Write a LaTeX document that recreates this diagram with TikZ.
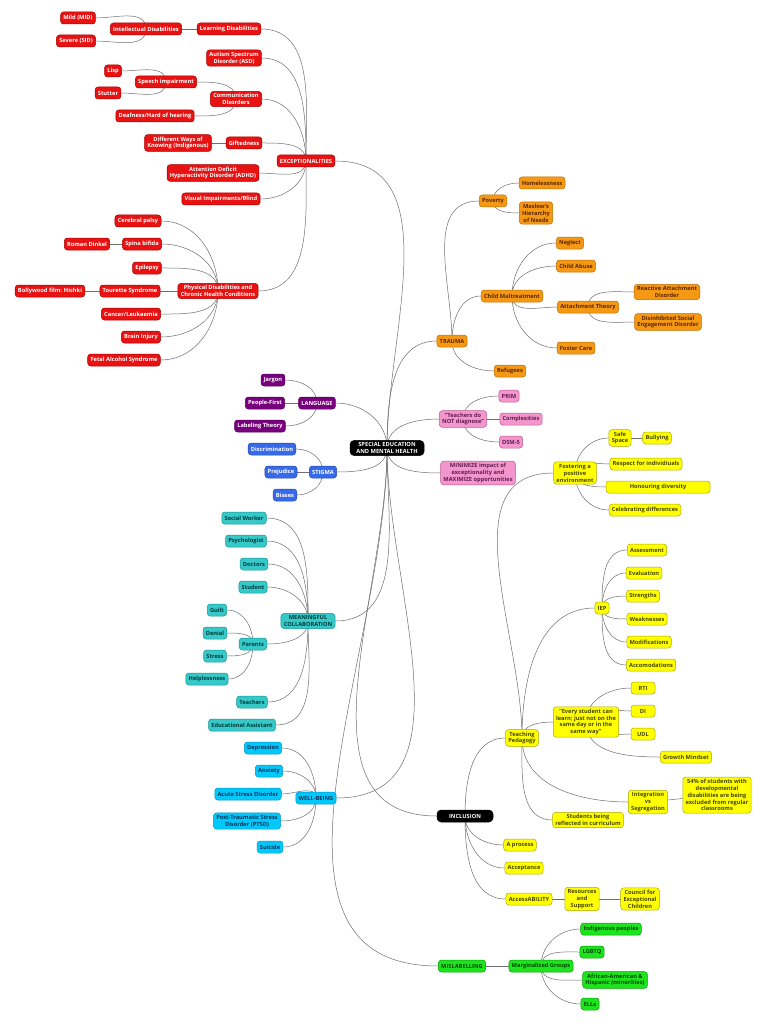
\documentclass[tikz,border=0pt]{standalone}
\usepackage{fontspec}
\setmainfont{Open Sans}
\pgfdeclarelayer{bg}
\pgfsetlayers{bg,main}
\definecolor{cRed}{RGB}{232,18,18}\definecolor{cRedB}{RGB}{170,0,0}
\definecolor{cOr}{RGB}{245,152,20}\definecolor{cOrB}{RGB}{190,110,0}\definecolor{cOrT}{RGB}{90,40,0}
\definecolor{cYe}{RGB}{255,255,0}\definecolor{cYeB}{RGB}{170,170,0}\definecolor{cYeT}{RGB}{70,70,0}
\definecolor{cPk}{RGB}{242,150,205}\definecolor{cPkB}{RGB}{190,90,150}\definecolor{cPkT}{RGB}{100,30,80}
\definecolor{cPu}{RGB}{120,0,125}
\definecolor{cBl}{RGB}{55,105,235}
\definecolor{cTe}{RGB}{55,200,200}\definecolor{cTeB}{RGB}{20,150,150}\definecolor{cTeT}{RGB}{0,60,60}
\definecolor{cCy}{RGB}{0,200,250}\definecolor{cCyB}{RGB}{0,150,200}\definecolor{cCyT}{RGB}{0,50,90}
\definecolor{cGr}{RGB}{30,228,30}\definecolor{cGrB}{RGB}{0,160,0}\definecolor{cGrT}{RGB}{0,70,0}
\definecolor{cCon}{RGB}{110,110,110}
\tikzset{
 bx/.style={rounded corners=3pt,font=\bfseries\fontsize{5.7}{6.9}\selectfont,align=center,inner xsep=2.8pt,inner ysep=2pt,minimum height=12pt,line width=0.5pt},
 rd/.style={bx,fill=cRed,draw=cRedB,text=white},
 orn/.style={bx,fill=cOr,draw=cOrB,text=cOrT},
 ye/.style={bx,fill=cYe,draw=cYeB,text=cYeT},
 pk/.style={bx,fill=cPk,draw=cPkB,text=cPkT},
 pu/.style={bx,fill=cPu,draw=cPu!70!black,text=white},
 bl/.style={bx,fill=cBl,draw=cBl!70!black,text=white},
 te/.style={bx,fill=cTe,draw=cTeB,text=cTeT},
 cy/.style={bx,fill=cCy,draw=cCyB,text=cCyT},
 gr/.style={bx,fill=cGr,draw=cGrB,text=cGrT},
 bk/.style={bx,fill=black,draw=black,text=white,rounded corners=4pt},
 con/.style={draw=cCon,line width=0.5pt}
}
\newcommand\LA[2]{\draw[con] (#2.east) to[out=0,in=90] (#1.center);}
\newcommand\LB[2]{\draw[con] (#2.east) to[out=0,in=-90] (#1.center);}
\newcommand\RA[2]{\draw[con] (#1.center) to[out=90,in=180] (#2.west);}
\newcommand\RB[2]{\draw[con] (#1.center) to[out=-90,in=180] (#2.west);}
\newcommand\SL[2]{\draw[con] (#1.center) -- (#2.center);}
\begin{document}
\begin{tikzpicture}[x=1pt,y=1pt]
\begin{pgfonlayer}{bg}
\fill[white] (0,0) rectangle (768,-1024);
\end{pgfonlayer}
\useasboundingbox (0,0) rectangle (768,-1024);
\node[bk,minimum width=74pt] (C) at (387,-448) {SPECIAL EDUCATION\\AND MENTAL HEALTH};
% red
\node[rd] (exc) at (306,-161) {EXCEPTIONALITIES};
\node[rd] (ld) at (229,-29) {Learning Disabilities};
\node[rd] (id) at (146,-29) {Intellectual Disabilities};
\node[rd] (mid) at (78,-18) {Mild (MID)};
\node[rd] (sid) at (76,-41) {Severe (SID)};
\node[rd] (asd) at (234,-58) {Autism Spectrum\\Disorder (ASD)};
\node[rd] (cd) at (236,-99) {Communication\\Disorders};
\node[rd] (sp) at (166,-82) {Speech impairment};
\node[rd] (lisp) at (113,-71) {Lisp};
\node[rd] (stut) at (108,-93) {Stutter};
\node[rd] (deaf) at (155,-116) {Deafness/Hard of hearing};
\node[rd] (gift) at (244,-143) {Giftedness};
\node[rd] (dwk) at (178,-143) {Different Ways of\\Knowing (Indigenous)};
\node[rd] (adhd) at (213,-173) {Attention Deficit\\Hyperactivity Disorder (ADHD)};
\node[rd] (vis) at (221,-199) {Visual Impairments/Blind};
\node[rd] (phys) at (218,-291) {Physical Disabilities and\\Chronic Health Conditions};
\node[rd] (cp) at (138,-221) {Cerebral palsy};
\node[rd] (sb) at (142,-244) {Spina bifida};
\node[rd] (rdk) at (87,-244) {Roman Dinkel};
\node[rd] (epi) at (147,-268) {Epilepsy};
\node[rd] (tour) at (130,-291) {Tourette Syndrome};
\node[rd] (bolly) at (50,-291) {Bollywood film: Hichki};
\node[rd] (canc) at (131,-314) {Cancer/Leukaemia};
\node[rd] (brain) at (141,-337) {Brain Injury};
\node[rd] (fas) at (124,-360) {Fetal Alcohol Syndrome};
% purple
\node[pu] (lang) at (317,-403) {LANGUAGE};
\node[pu] (jar) at (273,-380) {Jargon};
\node[pu] (pf) at (265,-403) {People-First};
\node[pu] (lt) at (260,-426) {Labeling Theory};
% blue
\node[bl] (stig) at (323,-472) {STIGMA};
\node[bl] (disc) at (272,-449) {Discrimination};
\node[bl] (prej) at (281,-472) {Prejudice};
\node[bl] (bias) at (285,-495) {Biases};
% teal
\node[te] (mc) at (308,-621) {MEANINGFUL\\COLLABORATION};
\node[te] (sw) at (244,-518) {Social Worker};
\node[te] (psy) at (246,-541) {Psychologist};
\node[te] (doc) at (254,-564) {Doctors};
\node[te] (stu) at (253,-587) {Student};
\node[te] (par) at (253,-644) {Parents};
\node[te] (guilt) at (217,-610) {Guilt};
\node[te] (den) at (215,-633) {Denial};
\node[te] (str) at (215,-656) {Stress};
\node[te] (help) at (207,-679) {Helplessness};
\node[te] (tea) at (252,-702) {Teachers};
\node[te] (ea) at (242,-725) {Educational Assistant};
% cyan
\node[cy] (wb) at (316,-798) {WELL-BEING};
\node[cy] (dep) at (263,-748) {Depression};
\node[cy] (anx) at (269,-771) {Anxiety};
\node[cy] (asdis) at (248,-794) {Acute Stress Disorder};
\node[cy] (ptsd) at (247,-821) {Post-Traumatic Stress\\Disorder (PTSD)};
\node[cy] (sui) at (270,-847) {Suicide};
% orange
\node[orn] (tr) at (452,-341) {TRAUMA};
\node[orn] (pov) at (493,-201) {Poverty};
\node[orn] (home) at (542,-183) {Homelessness};
\node[orn] (mas) at (536,-213) {Maslow's\\Hierarchy\\of Needs};
\node[orn] (cm) at (512,-296) {Child Maltreatment};
\node[orn] (neg) at (570,-243) {Neglect};
\node[orn] (ca) at (576,-266) {Child Abuse};
\node[orn] (at) at (588,-307) {Attachment Theory};
\node[orn] (rad) at (667,-292) {Reactive Attachment\\Disorder};
\node[orn] (dsed) at (668,-322) {Disinhibited Social\\Engagement Disorder};
\node[orn] (fc) at (576,-348) {Foster Care};
\node[orn] (ref) at (510,-371) {Refugees};
% pink
\node[pk] (tnd) at (463,-419) {"Teachers do\\NOT diagnose"};
\node[pk] (prim) at (509,-396) {PRIM};
\node[pk] (comp) at (521,-419) {Complexities};
\node[pk] (dsm) at (511,-442) {DSM-5};
\node[pk] (mini) at (478,-473) {MINIMIZE impact of\\exceptionality and\\MAXIMIZE opportunities};
% inclusion
\node[bk,minimum width=56pt] (inc) at (465,-816) {INCLUSION};
\node[ye] (tp) at (522,-738) {Teaching\\Pedagogy};
\node[ye] (fpe) at (575,-473) {Fostering a\\positive\\environment};
\node[ye] (safe) at (620,-438) {Safe\\Space};
\node[ye] (bul) at (657,-438) {Bullying};
\node[ye] (resp) at (646,-464) {Respect for individiuals};
\node[ye,minimum width=104pt] (hon) at (658,-487) {Honouring diversity};
\node[ye] (cel) at (645,-510) {Celebrating differences};
\node[ye] (iep) at (602,-608) {IEP};
\node[ye] (ass) at (647,-550) {Assessment};
\node[ye] (eva) at (644,-573) {Evaluation};
\node[ye] (stre) at (643,-596) {Strengths};
\node[ye] (weak) at (647,-619) {Weaknesses};
\node[ye] (mod) at (649,-642) {Modifications};
\node[ye] (acc) at (651,-665) {Accomodations};
\node[ye] (every) at (586,-722) {"Every student can\\learn; just not on the\\same day or in the\\same way"};
\node[ye,minimum width=24pt] (rti) at (643,-688) {RTI};
\node[ye,minimum width=24pt] (di) at (643,-711) {DI};
\node[ye,minimum width=24pt] (udl) at (643,-734) {UDL};
\node[ye] (gm) at (686,-757) {Growth Mindset};
\node[ye] (ivs) at (648,-802) {Integration\\vs\\Segregation};
\node[ye] (pct) at (717,-795) {54\% of students with\\developmental\\disabilities are being\\excluded from regular\\classrooms};
\node[ye] (sbr) at (588,-820) {Students being\\reflected in curriculum};
\node[ye] (proc) at (520,-845) {A process};
\node[ye] (acce) at (524,-868) {Acceptance};
\node[ye] (accab) at (529,-899) {AccessABILITY};
\node[ye] (rs) at (582,-899) {Resources\\and\\Support};
\node[ye] (cec) at (640,-899) {Council for\\Exceptional\\Children};
% green
\node[gr] (mis) at (462,-966) {MISLABELLING};
\node[gr] (mg) at (541,-966) {Marginalized Groups};
\node[gr] (ip) at (611,-929) {Indigenous peoples};
\node[gr] (lgb) at (592,-952) {LGBTQ};
\node[gr] (afr) at (615,-980) {African-American \&\\Hispanic (minorities)};
\node[gr] (ell) at (590,-1004) {ELLs};
\begin{pgfonlayer}{bg}
\LA{C}{exc}\LA{C}{lang}\LB{C}{stig}\LB{C}{mc}\LB{C}{wb}
\RA{C}{tr}\RA{C}{tnd}\RB{C}{mini}\RB{C}{inc}\RB{C}{mis}
\LA{exc}{ld}\LA{exc}{asd}\LA{exc}{cd}\LA{exc}{gift}\LB{exc}{adhd}\LB{exc}{vis}\LB{exc}{phys}
\SL{ld}{id}\LA{id}{mid}\LB{id}{sid}
\LA{cd}{sp}\LB{cd}{deaf}\LA{sp}{lisp}\LB{sp}{stut}
\SL{gift}{dwk}
\LA{phys}{cp}\LA{phys}{sb}\LA{phys}{epi}\SL{phys}{tour}\LB{phys}{canc}\LB{phys}{brain}\LB{phys}{fas}
\SL{sb}{rdk}\SL{tour}{bolly}
\LA{lang}{jar}\SL{lang}{pf}\LB{lang}{lt}
\LA{stig}{disc}\SL{stig}{prej}\LB{stig}{bias}
\LA{mc}{sw}\LA{mc}{psy}\LA{mc}{doc}\LA{mc}{stu}\LB{mc}{par}\LB{mc}{tea}\LB{mc}{ea}
\LA{par}{guilt}\LA{par}{den}\LB{par}{str}\LB{par}{help}
\LA{wb}{dep}\LA{wb}{anx}\LA{wb}{asdis}\LB{wb}{ptsd}\LB{wb}{sui}
\RA{tr}{pov}\RA{tr}{cm}\RB{tr}{ref}
\RA{pov}{home}\RB{pov}{mas}
\RA{cm}{neg}\RA{cm}{ca}\RB{cm}{at}\RB{cm}{fc}
\RA{at}{rad}\RB{at}{dsed}
\RA{tnd}{prim}\SL{tnd}{comp}\RB{tnd}{dsm}
\RA{inc}{tp}\RB{inc}{proc}\RB{inc}{acce}\RB{inc}{accab}
\RA{tp}{fpe}\RA{tp}{iep}\RA{tp}{every}\RB{tp}{ivs}\RB{tp}{sbr}
\RA{fpe}{safe}\RA{fpe}{resp}\RB{fpe}{hon}\RB{fpe}{cel}\SL{safe}{bul}
\RA{iep}{ass}\RA{iep}{eva}\RA{iep}{stre}\RB{iep}{weak}\RB{iep}{mod}\RB{iep}{acc}
\RA{every}{rti}\RA{every}{di}\RB{every}{udl}\RB{every}{gm}
\SL{ivs}{pct}\SL{accab}{rs}\SL{rs}{cec}
\SL{mis}{mg}
\RA{mg}{ip}\RA{mg}{lgb}\RB{mg}{afr}\RB{mg}{ell}
\end{pgfonlayer}
\end{tikzpicture}
\end{document}
